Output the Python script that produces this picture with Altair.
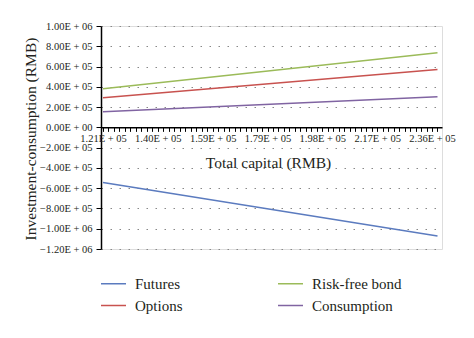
import altair as alt
import pandas as pd

# ---- data ----
series = ["Futures", "Options", "Risk-free bond", "Consumption"]
x_start = 121000
x_end = 238120
start_vals = [-545000, 293000, 381000, 155000]
end_vals = [-1071000, 571000, 736000, 302000]
colors = ["#5B7BBF", "#C8524F", "#9BBB59", "#8064A2"]

y_ticks = [1000000, 800000, 600000, 400000, 200000, 0, -200000, -400000,
           -600000, -800000, -1000000, -1200000]
y_labels = ["1.00E + 06", "8.00E + 05", "6.00E + 05", "4.00E + 05", "2.00E + 05",
            "0.00E + 00", "\u22122.00E + 05", "\u22124.00E + 05", "\u22126.00E + 05",
            "\u22128.00E + 05", "\u22121.00E + 06", "\u22121.20E + 06"]
x_step = 1920
x_ticks = [x_start + i * x_step for i in range(62)]

rows = []
for s, a, b in zip(series, start_vals, end_vals):
    rows.append({"series": s, "capital": x_start, "value": a})
    rows.append({"series": s, "capital": x_end, "value": b})
df = pd.DataFrame(rows)

FONT = "Liberation Serif"
TXT = "#231f20"

ylab_expr = ("[" + ",".join(f"'{l}'" for l in y_labels) + "][indexof(["
             + ",".join(str(v) for v in y_ticks) + "], datum.value)]")
xlab_expr = (f"(datum.value - {x_start}) % {x_step * 10} == 0 ? "
             "format(datum.value / 100000, '.2f') + 'E + 05' : ''")

W, H = 341, 223
zero_offset = -(H - H * 1000000 / 2200000)

chart = alt.Chart(df).mark_line(strokeWidth=1.5).encode(
    x=alt.X("capital:Q",
            scale=alt.Scale(domain=[120300, 239700], nice=False, zero=False),
            axis=alt.Axis(values=x_ticks, labelExpr=xlab_expr, labelOverlap=False,
                          offset=zero_offset, grid=False, tickSize=4, tickColor="#000",
                          domainColor="#000", domainWidth=1.5, labelPadding=2,
                          labelFont=FONT, labelFontSize=10.5, labelColor=TXT,
                          title="Total capital (RMB)", titleFont=FONT, titleFontSize=15.5,
                          titleFontWeight="normal", titleColor=TXT,
                          titleX=167, titleY=35, titleAlign="center",
                          titleBaseline="middle", zindex=2)),
    y=alt.Y("value:Q",
            scale=alt.Scale(domain=[-1200000, 1000000], nice=False),
            axis=alt.Axis(values=y_ticks, labelExpr=ylab_expr, labelOverlap=False,
                          grid=True, gridColor="#888", gridDash=[1.5, 7.5], gridWidth=1,
                          tickSize=5, tickColor="#000", domainColor="#000",
                          domainWidth=1.5, labelPadding=4,
                          labelFont=FONT, labelFontSize=10.5, labelColor=TXT,
                          title="Investment-consumption (RMB)", titleFont=FONT,
                          titleFontSize=15.5, titleFontWeight="normal", titleColor=TXT,
                          titleAngle=270, titleX=-71, titleY=112.5,
                          titleAlign="center", titleBaseline="middle")),
    color=alt.Color("series:N",
                    scale=alt.Scale(domain=series, range=colors),
                    sort=series,
                    legend=alt.Legend(title=None, orient="none", legendX=-1, legendY=244,
                                      columns=2, columnPadding=92, rowPadding=-5,
                                      symbolType="stroke", symbolSize=625,
                                      symbolStrokeWidth=1.5, labelOffset=8,
                                      labelFont=FONT, labelFontSize=15,
                                      labelColor=TXT, padding=0)),
).properties(
    width=W, height=H,
    autosize=alt.AutoSizeParams(type="none"),
    padding={"left": 101, "top": 26, "right": 32, "bottom": 89},
).configure_view(stroke=None).configure(background="white", font=FONT)

chart.save("out.html", embed_options={"renderer": "svg", "actions": False})
